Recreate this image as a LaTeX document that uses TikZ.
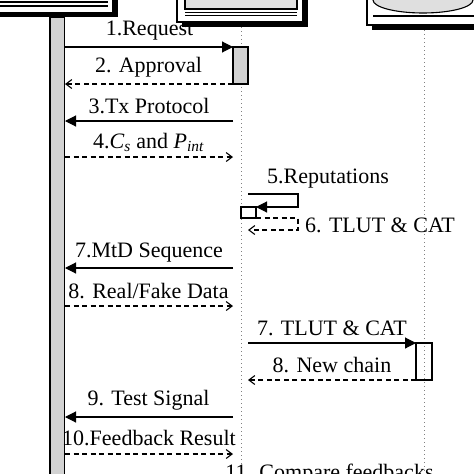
\documentclass[tikz,border=0pt]{standalone}
\usepackage{fontspec}
\setmainfont{Liberation Serif}
\usetikzlibrary{arrows.meta}
\tikzset{
  lbl/.style={font=\fontsize{22}{24}\selectfont, inner sep=0pt, anchor=base},
  msg/.style={line width=1.1pt, -{Triangle[length=11pt,width=11pt]}},
  reply/.style={line width=1.1pt, dash pattern=on 5pt off 3.5pt, -{Straight Barb[length=6pt,width=9pt]}},
  lifeline/.style={gray, line width=1pt, dash pattern=on 1pt off 3pt},
  actbox/.style={draw, line width=1.1pt, inner sep=0pt, outer sep=0pt},
  shadowbox/.style={fill=black},
  headbox/.style={draw, fill=white, line width=1.2pt},
}
\begin{document}
\begin{tikzpicture}[x=1pt,y=-1pt]
\useasboundingbox (0,0) rectangle (474,474);
\clip (0,0) rectangle (474,474);
% header boxes (partly outside the picture)
\fill[shadowbox] (-25,-30) rectangle (118,17);
\draw[headbox] (-30,-30) rectangle (113,13);
\draw[line width=1.1pt] (-20,2) -- (108,2);
\draw[line width=1.1pt] (-20,6) -- (108,6);
\fill[shadowbox] (182,-30) rectangle (308,27);
\draw[headbox] (177,-30) rectangle (303,22);
\draw[line width=1.1pt, fill=gray!25] (185,-30) rectangle (297,9);
\draw[line width=0.9pt] (185,12) -- (297,12);
\draw[line width=0.9pt] (185,15) -- (297,15);
\fill[shadowbox] (372,-30) rectangle (490,30);
\draw[headbox] (367,-30) rectangle (485,25);
\draw[line width=1.1pt, fill=gray!25] (423,0) ellipse [x radius=50, y radius=13];
\draw[line width=1.1pt] (373,16) -- (480,16);
% lifelines
\coordinate (midtop) at (241,27);
\coordinate (midbot) at (241,480);
\coordinate (rtop) at (424,30);
\coordinate (rbot) at (424,480);
\draw[lifeline] (midtop) -- (midbot);
\draw[lifeline] (rtop) -- (rbot);
\draw[line width=1.1pt, fill=gray!35] (50,17) rectangle (64.5,480);
% activation boxes
\node[actbox, fill=gray!35, minimum width=15pt, minimum height=37pt] (act1) at (240.5,65.5) {};
\node[actbox, fill=white, minimum width=15pt, minimum height=11pt] (act2) at (248.5,212.5) {};
\node[actbox, minimum width=16pt, minimum height=37pt] (act3) at (424,361.5) {};
% named endpoints
\coordinate (L2) at (65,84);
\coordinate (L3) at (65,121);  \coordinate (M3) at (233,121);
\coordinate (L4) at (65,157);  \coordinate (M4) at (233,157);
\coordinate (L7) at (65,268);  \coordinate (M7) at (233,268);
\coordinate (L8) at (65,306);  \coordinate (M8) at (233,306);
\coordinate (L9) at (65,417);  \coordinate (M9) at (233,417);
\coordinate (L10) at (65,454); \coordinate (M10) at (233,454);
\coordinate (L1) at (65,47);
\coordinate (S5a) at (248,194); \coordinate (S5b) at (298,194); \coordinate (S5c) at (298,207);
\coordinate (S6b) at (298,218); \coordinate (S6c) at (298,230); \coordinate (S6d) at (248,230);
\coordinate (R7) at (248,343);
\coordinate (R8) at (248,380);
% messages
\draw[msg] (L1) -- (act1.north west);
\draw[reply] (act1.south west) -- (L2);
\draw[msg] (M3) -- (L3);
\draw[reply] (L4) -- (M4);
\draw[msg] (S5a) -- (S5b) -- (S5c) -- (act2.north east);
\draw[reply] (act2.south east) -- (S6b) -- (S6c) -- (S6d);
\draw[msg] (M7) -- (L7);
\draw[reply] (L8) -- (M8);
\draw[msg] (R7) -- (act3.north west);
\draw[reply] (act3.south west) -- (R8);
\draw[msg] (M9) -- (L9);
\draw[reply] (L10) -- (M10);
% labels
\node[lbl] (t1) at (149.5,35) {1.Request};
\node[lbl] (t2) at (148.5,72) {2. Approval};
\node[lbl] (t3) at (149,113) {3.Tx Protocol};
\node[lbl] (t4) at (148.5,148) {4.{\itshape C\textsubscript{s}} and {\itshape P\textsubscript{int}}};
\node[lbl] (t5) at (328,183) {5.Reputations};
\node[lbl, anchor=base west] (t6) at (305,232) {6. TLUT \& CAT};
\node[lbl] (t7) at (149,257) {7.MtD Sequence};
\node[lbl] (t8) at (148.5,298) {8. Real/Fake Data};
\node[lbl] (t7b) at (332,335) {7. TLUT \& CAT};
\node[lbl] (t8b) at (332,372) {8. New chain};
\node[lbl] (t9) at (148.5,405) {9. Test Signal};
\node[lbl] (t10) at (149,445) {10.Feedback Result};
\node[lbl] (t11) at (329.5,479) {11. Compare feedbacks};
\end{tikzpicture}
\end{document}
